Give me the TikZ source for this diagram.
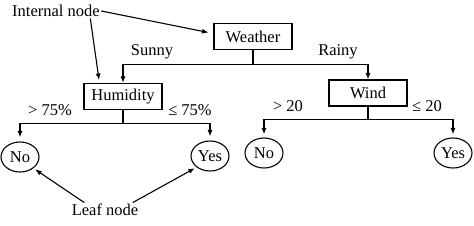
\documentclass[tikz,border=0pt]{standalone}
\usepackage{fontspec}
\setmainfont{Liberation Serif}
\usetikzlibrary{positioning,arrows.meta,shapes.geometric}

\begin{document}
\begin{tikzpicture}[x=1pt, y=-1pt, line width=1.1pt,
  font=\fontsize{16.5}{19}\selectfont,
  box/.style={draw, rectangle, minimum width=78pt, minimum height=26pt, inner sep=2pt},
  leaf/.style={draw, ellipse, minimum width=38pt, minimum height=30pt, inner sep=0pt},
  lbl/.style={inner sep=1pt},
  arr/.style={-{Latex[length=6.5pt,width=5pt]}}]
\useasboundingbox (0,0) rectangle (474,225);
% internal nodes
\node[box] (weather) at (253,36.5) {Weather};
\node[box] (humidity) at (123,96.5) {Humidity};
\node[box] (wind) at (368,93) {Wind};
% leaves
\foreach \n/\t/\x/\y in {no1/No/20/157, yes1/Yes/210/156, no2/No/264/153, yes2/Yes/453/153}{
  \node[leaf] (\n) at (\x,\y) {\t};
}
% branches of the tree
\draw[arr] (weather.south) -- ++(0,14) coordinate (wfork) -| (humidity.north);
\draw[arr] (wfork) -| (wind.north);
\draw[arr, shorten >=4pt] (humidity.south) -- ++(0,13) coordinate (hfork) -| (no1.north);
\draw[arr, shorten >=4pt] (hfork) -| (yes1.north);
\draw[arr, shorten >=3pt] (wind.south) -- ++(0,13) coordinate (dfork) -| (no2.north);
\draw[arr, shorten >=3pt] (dfork) -| (yes2.north);
% branch labels
\node[lbl] (sunny) at (152,52) {Sunny};
\node[lbl] (rainy) at (338,52) {Rainy};
\node[lbl] (gt75) at (50,110) {> 75\%};
\node[lbl] (le75) at (190,110) {≤ 75\%};
\node[lbl] (gt20) at (288,106) {> 20};
\node[lbl] (le20) at (427,106) {≤ 20};
% annotations
\node[lbl] (internal) at (56,11) {Internal node};
\node[lbl] (leafnode) at (105,210) {Leaf node};
\draw[arr, shorten >=5pt] (internal.east) -- ([yshift=3pt]weather.west);
\draw[arr, shorten >=3pt] ([xshift=-11pt]internal.south east) -- ([xshift=16pt]humidity.north west);
\draw[arr, shorten >=2pt] ([xshift=14pt]leafnode.north west) -- (no1.-40);
\draw[arr, shorten >=2pt] ([xshift=-7pt]leafnode.north east) -- (yes1.-140);
\end{tikzpicture}
\end{document}
